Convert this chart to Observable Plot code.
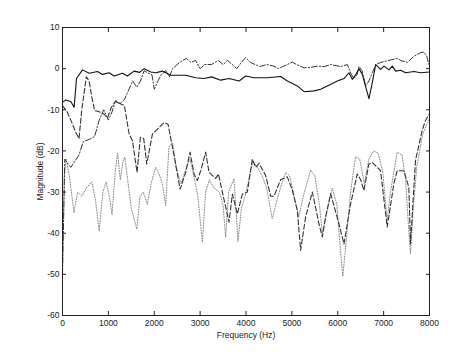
<!DOCTYPE html>
<html>
<head>
<meta charset="utf-8">
<script src="https://cdn.jsdelivr.net/npm/d3@7"></script>
<script src="https://cdn.jsdelivr.net/npm/@observablehq/plot@0.6"></script>
<style>
  html, body { margin: 0; padding: 0; background: #fff; }
  #chart svg { display: block; }
</style>
</head>
<body>
<div id="chart"></div>
<script>
// Tick values
const xTicks = [0, 1000, 2000, 3000, 4000, 5000, 6000, 7000, 8000];
const yTicks = [10, 0, -10, -20, -30, -40, -50, -60];

// Solid series
const solidHz = [0, 70, 180, 254, 305, 436, 581, 762, 871, 1016, 1125, 1307, 1416, 1561, 1680, 1779, 1924, 2033, 2178, 2359, 2686, 2904, 3086, 3250, 3449, 3631, 3849, 3994, 4175, 4466, 4756, 4901, 5120, 5265, 5483, 5628, 5773, 5991, 6136, 6245, 6318, 6390, 6463, 6536, 6610, 6681, 6753, 6826, 6935, 7008, 7117, 7189, 7262, 7371, 7480, 7661, 7807, 8000];
const solidDb = [-8.2, -7.6, -8.0, -9.4, -2.4, -0.3, -1.1, -0.7, -1.4, -1.0, -1.8, -1.1, -1.8, -0.6, -0.9, 0, -0.8, -1.0, -0.6, -1.6, -1.6, -2.2, -2.4, -2.0, -2.8, -2.4, -3.0, -1.8, -2.2, -2.2, -1.9, -3.0, -4.2, -5.6, -5.4, -5.0, -4.2, -3.0, -2.4, -1.0, -2.6, -1.5, 0, -1.4, -4.5, -7.3, -3.4, 1.0, -0.2, 0.6, -0.3, 0.6, -0.6, -0.4, -1.0, -0.7, -1.0, -0.8];

// Dash-dot series
const dashDotHz = [0, 50, 180, 300, 360, 450, 620, 700, 800, 900, 1000, 1080, 1150, 1250, 1350, 1450, 1530, 1620, 1700, 1780, 1850, 1950, 2000, 2080, 2150, 2250, 2330, 2400, 2550, 2700, 2800, 2900, 3000, 3100, 3250, 3400, 3500, 3600, 3700, 3800, 3900, 3992, 4100, 4200, 4300, 4450, 4610, 4700, 4800, 4900, 5009, 5100, 5265, 5400, 5555, 5700, 5845, 6063, 6208, 6300, 6353, 6420, 6463, 6530, 6608, 6680, 6753, 6830, 6935, 7080, 7226, 7300, 7371, 7516, 7661, 7807, 7880, 7940, 8000];
const dashDotDb = [-50, -22, -24, -22, -21, -17.8, -17, -16.5, -12.5, -10, -12.5, -10.5, -8, -8.5, -7.5, -5, -3, -4.5, -3, -0.5, -1, -1.5, -5, -3, -1.5, -0.5, -2, 0, 1.5, 2.5, 1.5, 2, 0, 1, 1, 2, 1, 2, 1, 0, 1.5, 2.7, 1.5, 1, 0.5, 1, 0.6, 0, 0.5, 1, 1.6, 1, 0.2, 0.3, 0.6, 0.5, 1, 0.5, 1, -1.5, -2.4, -1.5, 0.5, -0.5, -4.2, -3, -1, 1, 1.5, 1.9, 2.3, 2.5, 2, 1.5, 3, 3.9, 4, 3, 0.6];

// Dashed series
const dashedHz = [0, 100, 200, 290, 360, 420, 520, 580, 640, 700, 800, 900, 980, 1060, 1162, 1271, 1350, 1452, 1525, 1625, 1698, 1770, 1837, 1960, 2105, 2214, 2300, 2432, 2563, 2686, 2780, 2867, 2940, 3013, 3121, 3194, 3339, 3400, 3485, 3630, 3703, 3812, 3920, 4029, 4138, 4211, 4284, 4429, 4537, 4610, 4755, 4900, 5009, 5119, 5191, 5300, 5446, 5590, 5664, 5736, 5845, 6026, 6135, 6280, 6425, 6500, 6570, 6679, 6752, 6933, 7078, 7223, 7296, 7441, 7550, 7586, 7695, 7841, 7913, 8000];
const dashedDb = [-9, -10.5, -13, -15.5, -17, -10, -2, -3, -7, -10.2, -10.5, -11, -12, -9.5, -7.8, -8.6, -9, -15.9, -17.5, -25.2, -16.7, -17, -23.2, -15.9, -14.3, -13.1, -13.5, -21.1, -29.3, -25.2, -20.3, -25.6, -27.2, -24.8, -20.3, -25.2, -26.7, -25.6, -30, -37.3, -30.5, -35.3, -30.5, -30, -22, -24, -23, -26, -31, -31, -27, -26.3, -29.5, -34.5, -44.2, -36, -30, -37.7, -40.9, -36, -30.4, -37.7, -42.6, -32.9, -25.6, -27, -29.6, -23.2, -22.8, -24.8, -38.5, -28, -24.8, -24.8, -28.9, -42.6, -22.3, -15, -12.6, -11];

// Dotted series
const dottedHz = [0, 40, 80, 150, 250, 330, 420, 520, 640, 720, 800, 880, 950, 1020, 1080, 1150, 1200, 1260, 1320, 1360, 1420, 1500, 1620, 1690, 1760, 1850, 1930, 2030, 2100, 2180, 2250, 2320, 2400, 2480, 2580, 2700, 2780, 2860, 2950, 3049, 3120, 3200, 3300, 3420, 3500, 3557, 3620, 3738, 3825, 3900, 3980, 4050, 4150, 4250, 4350, 4450, 4573, 4650, 4750, 4864, 4950, 5050, 5150, 5250, 5350, 5408, 5500, 5600, 5664, 5760, 5880, 5980, 6050, 6110, 6200, 6280, 6388, 6480, 6580, 6680, 6787, 6880, 6980, 7077, 7150, 7296, 7400, 7480, 7540, 7586, 7640, 7720, 7850, 8000];
const dottedDb = [-48, -26, -22, -26, -35, -30, -31, -29, -27.5, -32, -39.5, -30, -27.5, -31, -35.5, -25, -20.5, -27, -22.5, -21.5, -27, -34, -39, -31, -30, -33, -28, -24, -25.5, -28, -33.3, -19, -18, -24, -28, -24, -22, -26, -31, -42.2, -30, -27, -29, -30, -33, -41, -30, -26.8, -42, -34, -31, -27.5, -22.5, -24, -26, -29, -36.5, -33, -29, -25.2, -26, -31, -36, -31, -27, -24.7, -26, -33, -40, -35, -29, -33, -43, -50.5, -40, -30, -21.4, -22, -28, -22, -20, -20.5, -25, -37, -30, -20.3, -21, -27, -38, -45, -35, -24, -16, -12];

const toRows = (hz, db) => hz.map((f, i) => ({f, db: db[i]}));
const blank = () => "";
const plain = (d) => String(d);

const chart = Plot.plot({
  width: 474,
  height: 355,
  marginLeft: 62,
  marginRight: 45,
  marginTop: 27,
  marginBottom: 40,
  style: {fontFamily: "'Liberation Sans', Arial, Helvetica, sans-serif", fontSize: "8.5px", color: "#222", background: "#fff"},
  x: {domain: [0, 8000]},
  y: {domain: [-60, 10]},
  marks: [
    Plot.line(toRows(dottedHz, dottedDb), {x: "f", y: "db", stroke: "#8a8a8a", strokeWidth: 1, strokeDasharray: "1,1.6"}),
    Plot.line(toRows(dashedHz, dashedDb), {x: "f", y: "db", stroke: "#333", strokeWidth: 1.1, strokeDasharray: "5,2.5"}),
    Plot.line(toRows(dashDotHz, dashDotDb), {x: "f", y: "db", stroke: "#333", strokeWidth: 1, strokeDasharray: "6,2,1.2,2"}),
    Plot.line(toRows(solidHz, solidDb), {x: "f", y: "db", stroke: "#111", strokeWidth: 1.1}),
    Plot.frame({stroke: "#222", strokeWidth: 1}),
    Plot.axisX(xTicks, {anchor: "bottom", tickSize: 0, tickPadding: 4, tickFormat: plain, label: "Frequency (Hz)", labelAnchor: "center", labelArrow: "none", labelOffset: 22}),
    Plot.axisX(xTicks, {anchor: "bottom", tickSize: -4, tickFormat: blank, label: null}),
    Plot.axisX(xTicks, {anchor: "top", tickSize: -4, tickFormat: blank, label: null}),
    Plot.axisY(yTicks, {anchor: "left", tickSize: 0, tickPadding: 3, tickFormat: plain, label: "Magnitude (dB)", labelAnchor: "center", labelArrow: "none", labelOffset: 26}),
    Plot.axisY(yTicks, {anchor: "left", tickSize: -4, tickFormat: blank, label: null}),
    Plot.axisY(yTicks, {anchor: "right", tickSize: -4, tickFormat: blank, label: null})
  ]
});
document.getElementById("chart").appendChild(chart);
</script>
</body>
</html>
